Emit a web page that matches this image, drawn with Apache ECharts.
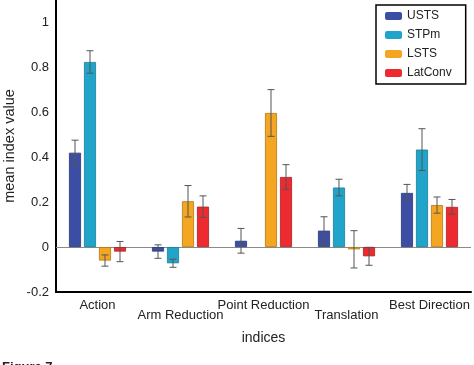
<!DOCTYPE html>
<html>
<head>
<meta charset="utf-8">
<script src="https://cdn.jsdelivr.net/npm/echarts@6/dist/echarts.min.js"></script>
<style>html,body{margin:0;padding:0;background:#fff;}#c{width:474px;height:365px;}</style>
</head>
<body>
<div id="c"></div>
<script>
const categories = ['Action', 'Arm Reduction', 'Point Reduction', 'Translation', 'Best Direction'];
const seriesNames = ['USTS', 'STPm', 'LSTS', 'LatConv'];
const USTS = [0.42, -0.02, 0.028, 0.073, 0.241];
const USTS_err = [0.056, 0.03, 0.055, 0.062, 0.038];
const STPm = [0.824, -0.072, null, 0.265, 0.434];
const STPm_err = [0.05, 0.018, null, 0.037, 0.093];
const LSTS = [-0.06, 0.204, 0.597, -0.01, 0.187];
const LSTS_err = [0.025, 0.07, 0.104, 0.083, 0.036];
const LatConv = [-0.02, 0.18, 0.312, -0.041, 0.179];
const LatConv_err = [0.045, 0.048, 0.055, 0.04, 0.033];
const yTicks = [-0.2, 0, 0.2, 0.4, 0.6, 0.8, 1];

const values = [USTS, STPm, LSTS, LatConv];
const errors = [USTS_err, STPm_err, LSTS_err, LatConv_err];
const colors = ['#3b4ea4', '#21a4c9', '#f4a623', '#ec2a30'];
const borders = ['#27357a', '#167e9b', '#b37814', '#a81e23'];

const BAR_W = 12, STEP = 15;
const font = 'Liberation Sans, Arial, sans-serif';

const chart = echarts.init(document.getElementById('c'), null, {renderer: 'canvas'});

const barSeries = seriesNames.map((n, k) => ({
  name: n, type: 'bar', data: values[k],
  barWidth: BAR_W, barGap: '25%',
  itemStyle: {color: colors[k], borderColor: borders[k], borderWidth: 0.8},
  z: 3,
  markLine: k === 0 ? {
    silent: true, symbol: 'none', label: {show: false},
    lineStyle: {color: '#8a8a8a', width: 1, type: 'solid'},
    data: [{yAxis: 0}], z: 2
  } : undefined
}));

const errSeries = seriesNames.map((n, k) => ({
  name: n + '_err', type: 'custom', z: 5,
  data: values[k].map((v, i) => [i, v, errors[k][i]]),
  encode: {x: 0, y: 1},
  renderItem: function (params, api) {
    const v = api.value(1), e = api.value(2);
    if (v == null || isNaN(v) || e == null || isNaN(e)) return;
    const i = api.value(0);
    const hi = api.coord([i, v + e]);
    const lo = api.coord([i, v - e]);
    const x = hi[0] + (k - 1.5) * STEP;
    const cw = 3.5;
    const st = {stroke: '#555', lineWidth: 1};
    return {type: 'group', children: [
      {type: 'line', shape: {x1: x, y1: hi[1], x2: x, y2: lo[1]}, style: st},
      {type: 'line', shape: {x1: x - cw, y1: hi[1], x2: x + cw, y2: hi[1]}, style: st},
      {type: 'line', shape: {x1: x - cw, y1: lo[1], x2: x + cw, y2: lo[1]}, style: st}
    ]};
  }
}));

chart.setOption({
  animation: false,
  backgroundColor: '#fff',
  textStyle: {fontFamily: font},
  grid: {left: 56, right: 3, top: 0, bottom: 73, containLabel: false, outerBoundsMode: 'none'},
  legend: {
    data: seriesNames, orient: 'vertical', left: 376, top: 5,
    itemWidth: 17, itemHeight: 8, itemGap: 5, itemTextGap: 5,
    padding: [4, 14, 4, 9],
    borderColor: '#000', borderWidth: 1.5, backgroundColor: '#fff',
    textStyle: {fontSize: 12, lineHeight: 14, color: '#222', fontFamily: font},
    itemStyle: {borderWidth: 0}
  },
  xAxis: {
    type: 'category', data: categories,
    name: 'indices', nameLocation: 'middle', nameGap: 39,
    nameTextStyle: {fontSize: 14, color: '#222', fontFamily: font},
    axisLine: {onZero: false, lineStyle: {color: '#000', width: 2}},
    axisTick: {show: false},
    axisLabel: {
      interval: 0, fontSize: 13, color: '#222', margin: 7, fontFamily: font,
      formatter: (v, i) => i % 2 ? '{lo|' + v + '}' : v,
      rich: {lo: {fontSize: 13, color: '#222', padding: [10, 0, 0, 0], fontFamily: font}}
    }
  },
  yAxis: {
    type: 'value', min: -0.2, max: 1.1, interval: 0.2,
    name: 'mean index value', nameLocation: 'middle', nameGap: 39, nameMoveOverlap: false,
    nameTextStyle: {fontSize: 14.5, color: '#222', fontFamily: font},
    axisLine: {show: true, lineStyle: {color: '#000', width: 2}},
    axisTick: {show: false},
    splitLine: {show: false},
    axisLabel: {
      fontSize: 13, color: '#222', margin: 7, showMaxLabel: false, fontFamily: font,
      formatter: v => {
        const t = yTicks.find(x => Math.abs(x - v) < 1e-6);
        return t === undefined ? '' : String(t);
      }
    }
  },
  graphic: [{
    type: 'text', left: 2, top: 361,
    style: {text: 'Figure 7.', fontSize: 13, fontWeight: 'bold', fill: '#222', fontFamily: font}
  }],
  series: barSeries.concat(errSeries)
});
</script>
</body>
</html>
